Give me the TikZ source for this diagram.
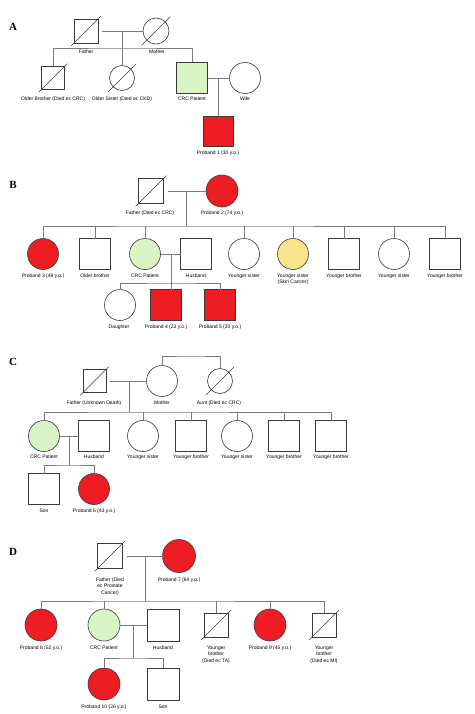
\documentclass[tikz,border=0pt]{standalone}
\usepackage{fontspec,tikz}
\setmainfont{Liberation Sans}
\newfontfamily\letterfont{Liberation Serif}
\definecolor{shapecol}{HTML}{3A3A3A}
\definecolor{linkcol}{HTML}{7A7A7A}
\definecolor{affected}{HTML}{EE1D24}
\definecolor{crcgreen}{HTML}{D9F5C6}
\definecolor{skinyellow}{HTML}{FAE38D}

\begin{document}
\begin{tikzpicture}[x=1pt,y=-1pt,
  male/.style={draw=shapecol,line width=0.6pt,rectangle,minimum size=#1,inner sep=0pt,outer sep=0pt},
  male/.default=31,
  female/.style={draw=shapecol,line width=0.6pt,circle,minimum size=#1,inner sep=0pt,outer sep=0pt},
  female/.default=31,
  dead/.style={draw=shapecol,line width=0.5pt,shorten <=-#1,shorten >=-#1},
  dead/.default=4pt,
  link/.style={draw=linkcol,line width=0.6pt},
  lbl/.style={inner sep=0pt,font=\fontsize{5}{6.5}\selectfont,align=center},
  panel/.style={inner sep=0pt,font=\fontsize{11}{13}\selectfont\letterfont\bfseries}]
\path[use as bounding box,fill=white] (0,0) rectangle (474,714);

% ---------- A ----------
\node[panel] (lettA) at (13,27) {A};
\node[male=24] (fA) at (86,31) {};
\node[female=26] (moA) at (156,31) {};
\draw[dead] (fA.south west) -- (fA.north east);
\draw[dead=7pt] (moA.south west) -- (moA.north east);
\draw[link,shorten <=4pt] (fA.east) -- (moA.west);
\coordinate (jA) at (122,31);
\coordinate (sA) at (122,48);
\draw[link] (jA) -- (sA);
\node[lbl] (fAl) at (86,52) {Father};
\node[lbl] (moAl) at (157,52) {Mother};
\node[male=23] (obA) at (53,78) {};
\node[female=25] (osA) at (122,78) {};
\node[male,fill=crcgreen] (crcA) at (192,78) {};
\node[female] (wA) at (245,78) {};
\draw[dead] (obA.south west) -- (obA.north east);
\draw[dead=7pt] (osA.south west) -- (osA.north east);
\draw[link] (obA.north) |- (sA) -| (crcA.north);
\draw[link] (osA.north) -- (sA);
\node[lbl] (obAl) at (53,99) {Older Brother (Died ec CRC)};
\node[lbl] (osAl) at (122,99) {Older Sister (Died ec CKD)};
\node[lbl] (crcAl) at (192,99) {CRC Patient};
\node[lbl] (wAl) at (245,99) {Wife};
\draw[link] (crcA.east) -- (wA.west);
\coordinate (jA2) at (218,78);
\node[male=30,fill=affected] (pA1) at (218,131) {};
\draw[link] (jA2) -- (pA1.north);
\node[lbl] (pA1l) at (218,153) {Proband 1 (30 y.o.)};

% ---------- B ----------
\node[panel] (lettB) at (13,185) {B};
\node[male=25] (fB) at (151,191) {};
\node[female=32,fill=affected] (p2) at (222,191) {};
\draw[dead] (fB.south west) -- (fB.north east);
\draw[link,shorten <=4pt] (fB.east) -- (p2.west);
\coordinate (jB) at (186,191);
\coordinate (sB) at (186,226);
\draw[link] (jB) -- (sB);
\node[lbl] (fBl) at (150,213) {Father (Died ec CRC)};
\node[lbl] (p2l) at (222,213) {Proband 2 (74 y.o.)};
\node[female,fill=affected] (p3) at (43,254) {};
\node[male] (obB) at (95,254) {};
\node[female,fill=crcgreen] (crcB) at (145,254) {};
\node[male] (hB) at (196,254) {};
\node[female] (ysB1) at (244,254) {};
\node[female,fill=skinyellow] (ysB2) at (293,254) {};
\node[male] (ybB1) at (344,254) {};
\node[female] (ysB3) at (394,254) {};
\node[male] (ybB2) at (445,254) {};
\draw[link] (p3.north) |- (sB) -| (ybB2.north);
\draw[link] (obB.north) -- (obB.north |- sB);
\draw[link] (crcB.north) -- (crcB.north |- sB);
\draw[link] (ysB1.north) -- (ysB1.north |- sB);
\draw[link] (ysB2.north) -- (ysB2.north |- sB);
\draw[link] (ybB1.north) -- (ybB1.north |- sB);
\draw[link] (ysB3.north) -- (ysB3.north |- sB);
\node[lbl] (p3l) at (43,276) {Proband 3 (49 y.o.)};
\node[lbl] (obBl) at (95,276) {Older brother};
\node[lbl] (crcBl) at (145,276) {CRC Patient};
\node[lbl] (hBl) at (196,276) {Husband};
\node[lbl] (ysB1l) at (244,276) {Younger sister};
\node[lbl] (ysB2l) at (293,279) {Younger sister\\(Skin Cancer)};
\node[lbl] (ybB1l) at (344,276) {Younger brother};
\node[lbl] (ysB3l) at (394,276) {Younger sister};
\node[lbl] (ybB2l) at (445,276) {Younger brother};
\draw[link] (crcB.east) -- (hB.west);
\coordinate (jB2) at (171,254);
\coordinate (sB2) at (171,283);
\node[female] (dB) at (120,305) {};
\node[male,fill=affected] (p4) at (166,305) {};
\node[male,fill=affected] (p5) at (220,305) {};
\draw[link] (jB2) -- (jB2 |- p4.north);
\draw[link] (dB.north) |- (sB2) -| (p5.north);
\node[lbl] (dBl) at (119,327) {Daughter};
\node[lbl] (p4l) at (166,327) {Proband 4 (23 y.o.)};
\node[lbl] (p5l) at (220,327) {Proband 5 (20 y.o.)};

% ---------- C ----------
\node[panel] (lettC) at (13,362) {C};
\node[male=23] (fC) at (94.5,381) {};
\node[female] (moC) at (162,381) {};
\node[female=25] (auC) at (220,381) {};
\draw[dead] (fC.south west) -- (fC.north east);
\draw[dead=7pt] (auC.south west) -- (auC.north east);
\coordinate (gC) at (191,356);
\draw[link] (moC.north) |- (gC) -| (auC.north);
\draw[link,shorten <=4pt] (fC.east) -- (moC.west);
\coordinate (jC) at (129,381);
\coordinate (sC) at (129,412);
\draw[link] (jC) -- (sC);
\node[lbl] (fCl) at (94,403) {Father (Unknown Death)};
\node[lbl] (moCl) at (162,403) {Mother};
\node[lbl] (auCl) at (219,403) {Aunt (Died ec CRC)};
\node[female,fill=crcgreen] (crcC) at (44,436) {};
\node[male] (hC) at (94,436) {};
\node[female] (ysC1) at (143,436) {};
\node[male] (ybC1) at (191,436) {};
\node[female] (ysC2) at (237,436) {};
\node[male] (ybC2) at (284,436) {};
\node[male] (ybC3) at (331,436) {};
\draw[link] (crcC.north) |- (sC) -| (ybC3.north);
\draw[link] (ysC1.north) -- (ysC1.north |- sC);
\draw[link] (ybC1.north) -- (ybC1.north |- sC);
\draw[link] (ysC2.north) -- (ysC2.north |- sC);
\draw[link] (ybC2.north) -- (ybC2.north |- sC);
\node[lbl] (crcCl) at (44,457) {CRC Patient};
\node[lbl] (hCl) at (94,457) {Husband};
\node[lbl] (ysC1l) at (143,457) {Younger sister};
\node[lbl] (ybC1l) at (191,457) {Younger brother};
\node[lbl] (ysC2l) at (237,457) {Younger sister};
\node[lbl] (ybC2l) at (284,457) {Younger brother};
\node[lbl] (ybC3l) at (331,457) {Younger brother};
\draw[link] (crcC.east) -- (hC.west);
\coordinate (jC2) at (69,436);
\coordinate (sC2) at (69,465);
\draw[link] (jC2) -- (sC2);
\node[male] (sonC) at (44,489) {};
\node[female,fill=affected] (p6) at (94,489) {};
\draw[link] (sonC.north) |- (sC2) -| (p6.north);
\node[lbl] (sonCl) at (44,511) {Son};
\node[lbl] (p6l) at (94,511) {Proband 6 (43 y.o.)};

% ---------- D ----------
\node[panel] (lettD) at (13,552) {D};
\node[male=25] (fD) at (110,556) {};
\node[female=33,fill=affected] (p7) at (179,556) {};
\draw[dead] (fD.south west) -- (fD.north east);
\draw[link,shorten <=4pt] (fD.east) -- (p7.west);
\coordinate (jD) at (145,556);
\coordinate (sD) at (145,601);
\draw[link] (jD) -- (sD);
\node[lbl] (fDl) at (110,586.5) {Father (Died\\ec Prostate\\Cancer)};
\node[lbl] (p7l) at (179,580) {Proband 7 (64 y.o.)};
\node[female=32,fill=affected] (p8) at (41,625) {};
\node[female=32,fill=crcgreen] (crcD) at (104,625) {};
\node[male=32] (hD) at (163,625) {};
\node[male=24] (ybD1) at (216,625) {};
\node[female=32,fill=affected] (p9) at (270,625) {};
\node[male=24] (ybD2) at (324,625) {};
\draw[dead] (ybD1.south west) -- (ybD1.north east);
\draw[dead] (ybD2.south west) -- (ybD2.north east);
\draw[link] (p8.north) |- (sD) -| (ybD2.north);
\draw[link] (crcD.north) -- (crcD.north |- sD);
\draw[link] (ybD1.north) -- (ybD1.north |- sD);
\draw[link] (p9.north) -- (p9.north |- sD);
\node[lbl] (p8l) at (41,648) {Proband 8 (52 y.o.)};
\node[lbl] (crcDl) at (104,648) {CRC Patient};
\node[lbl] (hDl) at (163,648) {Husband};
\node[lbl] (ybD1l) at (216,654.5) {Younger\\brother\\(Died ec TA)};
\node[lbl] (p9l) at (270,648) {Proband 9 (45 y.o.)};
\node[lbl] (ybD2l) at (324,654.5) {Younger\\brother\\(Died ec MI)};
\draw[link] (crcD.east) -- (hD.west);
\coordinate (jD2) at (133,625);
\coordinate (sD2) at (133,658);
\draw[link] (jD2) -- (sD2);
\node[female=32,fill=affected] (p10) at (104,684) {};
\node[male=32] (sonD) at (163,684) {};
\draw[link] (p10.north) |- (sD2) -| (sonD.north);
\node[lbl] (p10l) at (104,707) {Proband 10 (26 y.o.)};
\node[lbl] (sonDl) at (163,707) {Son};
\end{tikzpicture}
\end{document}
